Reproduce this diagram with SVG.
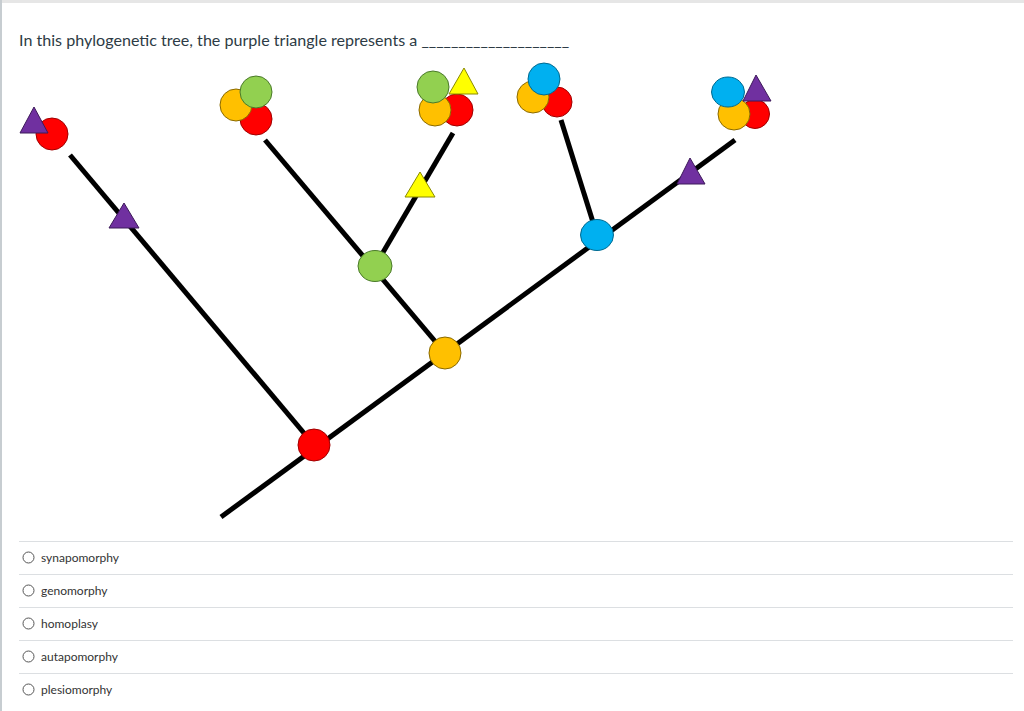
<svg xmlns="http://www.w3.org/2000/svg" width="1024" height="711" viewBox="0 0 1024 711">
<style>
.q{font-family:Lato,"Liberation Sans",sans-serif;fill:#2d3b45}
.t{font-size:16.1px}
.o{font-size:12px;fill:#333}
.sep{stroke:#dcdfe2;stroke-width:1}
.radio{fill:#fff;stroke:#555;stroke-width:1}
.br{stroke:#000;stroke-width:5;fill:none}
.r{fill:#ff0000;stroke:#a00000;stroke-width:1}
.y{fill:#ffc000;stroke:#8a6a00;stroke-width:1}
.g{fill:#92d050;stroke:#4a7a2a;stroke-width:1}
.b{fill:#00b0f0;stroke:#006a90;stroke-width:1}
.p{fill:#7030a0;stroke:#3d1a5a;stroke-width:1}
.yt{fill:#ffff00;stroke:#8a8a00;stroke-width:1}
</style>
<rect width="1024" height="711" fill="#fff"/>
<rect x="0" y="0" width="1024" height="3" fill="#e6e6e6"/>
<rect x="0" y="0" width="2" height="711" fill="#c7cdd1"/>
<text class="q t" x="19" y="46">In this phylogenetic tree, the purple triangle represents a ____________________</text>

<g id="connectors">
<line class="br" x1="221" y1="517" x2="735" y2="140"/>
<line class="br" x1="314" y1="445" x2="70" y2="155"/>
<line class="br" x1="445" y1="353" x2="265" y2="140"/>
<line class="br" x1="375" y1="266" x2="453" y2="133"/>
<line class="br" x1="597" y1="235" x2="561" y2="120"/>
</g>

<g id="node-red"><circle class="r" cx="314" cy="445" r="16"/></g>
<g id="node-orange"><circle class="y" cx="445" cy="353" r="16"/></g>
<g id="node-green"><ellipse class="g" cx="375" cy="266" rx="17" ry="15.5"/></g>
<g id="node-blue"><ellipse class="b" cx="597" cy="235" rx="16.5" ry="15.5"/></g>

<g id="mark-purple-left"><polygon class="p" points="124,203 109,228 139,228"/></g>
<g id="mark-yellow"><polygon class="yt" points="420,172 405,197 435,197"/></g>
<g id="mark-purple-right"><polygon class="p" points="690,158 677,184 705,184"/></g>

<g id="tip1">
<circle class="r" cx="52" cy="134" r="16"/>
<polygon class="p" points="34,107 20,133 48,133"/>
</g>
<g id="tip2">
<circle class="r" cx="256" cy="119" r="16"/>
<circle class="y" cx="236" cy="105" r="16"/>
<circle class="g" cx="256" cy="92" r="16"/>
</g>
<g id="tip3">
<circle class="r" cx="457" cy="110" r="16"/>
<circle class="y" cx="435" cy="110" r="16"/>
<polygon class="yt" points="464,68 449,94 478,94"/>
<circle class="g" cx="433" cy="87" r="16"/>
</g>
<g id="tip4">
<circle class="r" cx="557" cy="102" r="15"/>
<circle class="y" cx="533" cy="97" r="16"/>
<circle class="b" cx="544" cy="79" r="16"/>
</g>
<g id="tip5">
<circle class="r" cx="755" cy="114" r="14.5"/>
<circle class="y" cx="734" cy="114" r="16"/>
<ellipse class="b" cx="728" cy="92" rx="16.5" ry="15"/>
<polygon class="p" points="756,75 743,101 771,101"/>
</g>

<g id="options">
<line class="sep" x1="19" y1="541.5" x2="1013" y2="541.5"/>
<line class="sep" x1="19" y1="574.5" x2="1013" y2="574.5"/>
<line class="sep" x1="19" y1="607.5" x2="1013" y2="607.5"/>
<line class="sep" x1="19" y1="640.5" x2="1013" y2="640.5"/>
<line class="sep" x1="19" y1="673.5" x2="1013" y2="673.5"/>
<circle class="radio" cx="28.5" cy="557.5" r="5.5"/>
<circle class="radio" cx="28.5" cy="590.5" r="5.5"/>
<circle class="radio" cx="28.5" cy="623.5" r="5.5"/>
<circle class="radio" cx="28.5" cy="656.5" r="5.5"/>
<circle class="radio" cx="28.5" cy="689.5" r="5.5"/>
<text class="q o" x="41" y="561.5">synapomorphy</text>
<text class="q o" x="41" y="594.5">genomorphy</text>
<text class="q o" x="41" y="627.5">homoplasy</text>
<text class="q o" x="41" y="660.5">autapomorphy</text>
<text class="q o" x="41" y="693.5">plesiomorphy</text>
</g>
</svg>
